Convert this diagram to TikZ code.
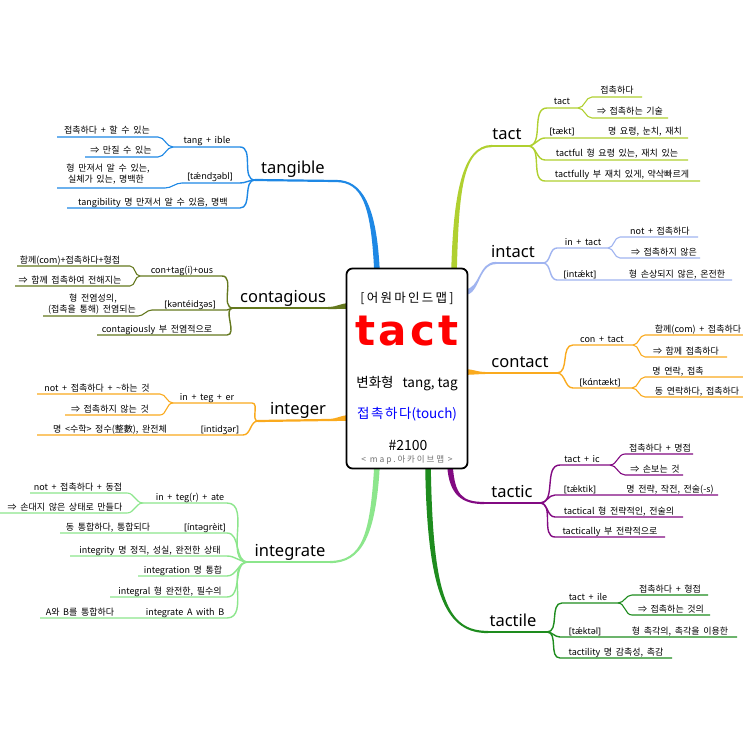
\documentclass[tikz,border=0pt]{standalone}
\usepackage{fontspec}
\setmainfont{Noto Sans CJK KR}
\newfontfamily\txtfont{Noto Sans CJK KR}[WordSpace=1.8]
\newfontfamily\latinfont{Noto Sans}
\newfontfamily\ipafont{Noto Sans}
\newfontfamily\tactfont{DejaVu Sans}
\newfontfamily\krspaced{Noto Sans CJK KR}[LetterSpace=18]
\newfontfamily\krmid{Noto Sans CJK KR}[LetterSpace=12]
\newfontfamily\krwide{Noto Sans CJK KR}[LetterSpace=22]
\usetikzlibrary{calc,backgrounds}
\definecolor{cTact}{RGB}{176,208,48}
\definecolor{cIntact}{RGB}{160,180,240}
\definecolor{cOrange}{RGB}{250,170,30}
\definecolor{cPurple}{RGB}{130,10,130}
\definecolor{cGreen}{RGB}{30,140,30}
\definecolor{cBlue}{RGB}{30,136,229}
\definecolor{cOlive}{RGB}{100,120,30}
\definecolor{cLgreen}{RGB}{140,230,140}
\newcommand\mainbranch[7]{%
  \coordinate (#1A) at (#3); \coordinate (#1C) at (#4); \coordinate (#1D) at (#5);
  \coordinate (#1B) at (#6); \coordinate (#1F) at (#7);
  \fill[#2] ($(#1A)!2.8pt!90:(#1C)$) .. controls ($(#1C)!2.8pt!-90:(#1A)$) and ($(#1D)!1.1pt!90:(#1B)$) .. ($(#1B)!1.1pt!-90:(#1D)$)
    -- ($(#1B)!1.1pt!90:(#1D)$) .. controls ($(#1D)!1.1pt!-90:(#1B)$) and ($(#1C)!2.8pt!90:(#1A)$) .. ($(#1A)!2.8pt!-90:(#1C)$) -- cycle;
  \draw[#2, line width=2.2pt] (#1B) -- (#1F);}
\newcommand\subR[5]{%
  \coordinate (#3s) at (#4); \coordinate (#3e) at (#5);
  \draw[#1] (#2) to[out=0,in=180] (#3s) -- (#3e);}
\newcommand\subL[5]{%
  \coordinate (#3s) at (#4); \coordinate (#3e) at (#5);
  \draw[#1] (#2) to[out=180,in=0] (#3s) -- (#3e);}
\begin{document}
\begin{tikzpicture}[x=1pt,y=-1pt,
  txt/.style={font=\txtfont\fontsize{9}{10}\selectfont, inner sep=0pt, anchor=base},
  mainlbl/.style={font=\latinfont\fontsize{16.5}{18}\selectfont, inner sep=0pt, anchor=base},
  sb/.style={draw=#1, line width=1.4pt},
  ssb/.style={draw=#1, line width=1.1pt}]
\useasboundingbox (0,0) rectangle (743,743);
\node[draw=black, line width=1.8pt, rounded corners=6pt, fill=white, minimum width=121pt, minimum height=200pt, inner sep=0pt] (hub) at (407,368.5) {};
\begin{scope}[on background layer]
\fill[white] (0,0) rectangle (743,743);
% tact
\mainbranch{tact}{cTact}{454,272}{456,195}{462,146}{492,146}{528,146}
\subR{sb=cTact}{tactF}{tactI}{547,108}{578,108}
\subR{ssb=cTact}{tactIe}{tactIa}{592,97}{642,97}
\subR{ssb=cTact}{tactIe}{tactIb}{592,118}{668,118}
\subR{sb=cTact}{tactF}{tactII}{545,138}{688,138}
\subR{sb=cTact}{tactF}{tactIII}{545,160}{688,160}
\subR{sb=cTact}{tactF}{tactIV}{545,181}{700,181}
% intact
\mainbranch{intact}{cIntact}{465,292}{480,292}{478,263}{496,263}{543,263}
\subR{sb=cIntact}{intactF}{inI}{557,248}{608,248}
\subR{ssb=cIntact}{inIe}{inIa}{620,237}{698,237}
\subR{ssb=cIntact}{inIe}{inIb}{620,258}{700,258}
\subR{sb=cIntact}{intactF}{inII}{557,280}{732,280}
% contact
\mainbranch{contact}{cOrange}{465,372}{474,372}{476,373}{485,373}{557,373}
\subR{sb=cOrange}{contactF}{coI}{573,345}{633,345}
\subR{ssb=cOrange}{coIe}{coIa}{645,335}{743,335}
\subR{ssb=cOrange}{coIe}{coIb}{645,357}{727,357}
\subR{sb=cOrange}{contactF}{coII}{573,388}{632,388}
\subR{ssb=cOrange}{coIIe}{coIIa}{645,377}{743,377}
\subR{ssb=cOrange}{coIIe}{coIIb}{645,397}{743,397}
% tactic
\mainbranch{tactic}{cPurple}{450,466}{452,495}{462,503}{484,503}{540,503}
\subR{sb=cPurple}{tacticF}{tcI}{560,465}{610,465}
\subR{ssb=cPurple}{tcIe}{tcIa}{625,454}{693,454}
\subR{ssb=cPurple}{tcIe}{tcIb}{625,475}{683,475}
\subR{sb=cPurple}{tacticF}{tcII}{555,495}{718,495}
\subR{sb=cPurple}{tacticF}{tcIII}{555,517}{683,517}
\subR{sb=cPurple}{tacticF}{tcIV}{555,537}{665,537}
% tactile
\mainbranch{tactile}{cGreen}{428,466}{430,600}{448,632}{488,632}{547,632}
\subR{sb=cGreen}{tactileF}{tlI}{562,603}{618,603}
\subR{ssb=cGreen}{tlIe}{tlIa}{632,595}{708,595}
\subR{ssb=cGreen}{tlIe}{tlIb}{632,615}{710,615}
\subR{sb=cGreen}{tactileF}{tlII}{560,637}{737,637}
\subR{sb=cGreen}{tactileF}{tlIII}{560,658}{672,658}
% tangible
\mainbranch{tangible}{cBlue}{377,272}{374,205}{362,181}{336,181}{255,180}
\subL{sb=cBlue}{tangibleF}{tgI}{240,147}{173,147}
\subL{ssb=cBlue}{tgIe}{tgIa}{158,137}{57,137}
\subL{ssb=cBlue}{tgIe}{tgIb}{158,157}{85,157}
\subL{sb=cBlue}{tangibleF}{tgII}{240,183}{182,183}
\subL{ssb=cBlue}{tgIIe}{tgIIa}{165,188}{57,188}
\subL{sb=cBlue}{tangibleF}{tgIII}{240,208}{67,208}
% contagious
\mainbranch{contagious}{cOlive}{349,306}{340,306}{338,308}{328,308}{233,308}
\subL{sb=cOlive}{contagiousF}{cgI}{222,276}{140,276}
\subL{ssb=cOlive}{cgIe}{cgIa}{130,266}{17,266}
\subL{ssb=cOlive}{cgIe}{cgIb}{130,286}{15,286}
\subL{sb=cOlive}{contagiousF}{cgII}{227,310}{152,310}
\subL{ssb=cOlive}{cgIIe}{cgIIa}{138,316}{43,316}
\subL{sb=cOlive}{contagiousF}{cgIII}{227,335}{97,335}
% integer
\mainbranch{integer}{cOrange}{349,418}{340,418}{338,420}{328,420}{258,421}
\subL{sb=cOrange}{integerF}{igI}{252,403}{173,403}
\subL{ssb=cOrange}{igIe}{igIa}{160,394}{37,394}
\subL{ssb=cOrange}{igIe}{igIb}{160,415}{65,415}
\subL{sb=cOrange}{integerF}{igII}{243,435}{37,435}
% integrate
\mainbranch{integrate}{cLgreen}{377,466}{373,535}{362,562}{330,562}{248,562}
\subL{sb=cLgreen}{integrateF}{irI}{227,503}{143,503}
\subL{ssb=cLgreen}{irIe}{irIa}{127,493}{30,493}
\subL{ssb=cLgreen}{irIe}{irIb}{127,513}{0,513}
\subL{sb=cLgreen}{integrateF}{irII}{227,533}{60,533}
\subL{sb=cLgreen}{integrateF}{irIII}{227,556}{70,556}
\subL{sb=cLgreen}{integrateF}{irIV}{227,576}{138,576}
\subL{sb=cLgreen}{integrateF}{irV}{227,597}{110,597}
\subL{sb=cLgreen}{integrateF}{irVI}{227,618}{40,618}
\end{scope}
% hub texts
\node[inner sep=0pt, anchor=base, font=\krspaced\fontsize{12.5}{14}\selectfont] (h1) at (407,302) {[어원마인드맵]};
\node[inner sep=0pt, anchor=base, text=red, font=\tactfont\bfseries\fontsize{42}{44}\selectfont] (h2) at (407,345) {t\kern3.5pt a\kern3.5pt c\kern3.5pt t};
\node[inner sep=0pt, anchor=base, font=\fontsize{13.5}{15}\selectfont] (h3) at (407,387) {변화형\hspace{9pt}tang, tag};
\node[inner sep=0pt, anchor=base, text=blue, font=\fontsize{13.5}{15}\selectfont] (h4) at (407,418) {{\krmid 접촉하다}(touch)};
\node[inner sep=0pt, anchor=base, font=\fontsize{14}{16}\selectfont] (h5) at (408,450) {\#2100};
\node[inner sep=0pt, anchor=base, text=black!55, font=\krwide\fontsize{8.5}{9}\selectfont] (h6) at (407,462) {< map.아카이브맵 >};
% main labels
\node[mainlbl] (Ltact) at (507,140) {tact};
\node[mainlbl] (Lintact) at (513,257) {intact};
\node[mainlbl] (Lcontact) at (520,367) {contact};
\node[mainlbl] (Ltactic) at (512,497) {tactic};
\node[mainlbl] (Ltactile) at (513,626) {tactile};
\node[mainlbl] (Ltangible) at (293,174) {tangible};
\node[mainlbl] (Lcontagious) at (283,302) {contagious};
\node[mainlbl] (Linteger) at (298,414) {integer};
\node[mainlbl] (Lintegrate) at (290,556) {integrate};
% tact texts
\node[txt] (a1) at (562,105) {tact};
\node[txt] (a2) at (617,94) {접촉하다};
\node[txt] (a3) at (630,115) {⇒ 접촉하는 기술};
\node[txt] (a4) at (562,135) {\ipafont [tækt]};
\node[txt] (a5) at (645,135) {명 요령, 눈치, 재치};
\node[txt] (a6) at (617,157) {tactful 형 요령 있는, 재치 있는};
\node[txt] (a7) at (622,178) {tactfully 부 재치 있게, 약삭빠르게};
% intact texts
\node[txt] (b1) at (583,245) {in + tact};
\node[txt] (b2) at (660,234) {not + 접촉하다};
\node[txt] (b3) at (664,255) {⇒ 접촉하지 않은};
\node[txt] (b4) at (580,277) {\ipafont [intǽkt]};
\node[txt] (b5) at (677,277) {형 손상되지 않은, 온전한};
% contact texts
\node[txt] (c1) at (602,342) {con + tact};
\node[txt] (c2) at (698,332) {함께(com) + 접촉하다};
\node[txt] (c3) at (686,354) {⇒ 함께 접촉하다};
\node[txt] (c4) at (600,385) {\ipafont [kɑ́ntækt]};
\node[txt] (c5) at (678,374) {명 연락, 접촉};
\node[txt] (c6) at (697,394) {동 연락하다, 접촉하다};
% tactic texts
\node[txt] (d1) at (582,462) {tact + ic};
\node[txt] (d2) at (660,451) {접촉하다 + 명접};
\node[txt] (d3) at (655,472) {⇒ 손보는 것};
\node[txt] (d4) at (580,492) {\ipafont [tǽktik]};
\node[txt] (d5) at (670,492) {명 전략, 작전, 전술(-s)};
\node[txt] (d6) at (619,514) {tactical 형 전략적인, 전술의};
\node[txt] (d7) at (610,534) {tactically 부 전략적으로};
% tactile texts
\node[txt] (e1) at (588,600) {tact + ile};
\node[txt] (e2) at (670,592) {접촉하다 + 형접};
\node[txt] (e3) at (671,612) {⇒ 접촉하는 것의};
\node[txt] (e4) at (585,634) {\ipafont [tǽktəl]};
\node[txt] (e5) at (680,634) {형 촉각의, 촉각을 이용한};
\node[txt] (e6) at (616,655) {tactility 명 감촉성, 촉감};
% tangible texts
\node[txt] (f1) at (207,144) {tang + ible};
\node[txt] (f2) at (107,134) {접촉하다 + 할 수 있는};
\node[txt] (f3) at (121,154) {⇒ 만질 수 있는};
\node[txt] (f4) at (210,180) {\ipafont [tǽndʒəbl]};
\node[txt] (f5) at (108,172) {형 만져서 알 수 있는,};
\node[txt] (f6) at (106,183) {실체가 있는, 명백한};
\node[txt] (f7) at (153,205) {tangibility 명 만져서 알 수 있음, 명백};
% contagious texts
\node[txt] (g1) at (182,273) {con+tag(i)+ous};
\node[txt] (g2) at (70,263) {함께(com)+접촉하다+형접};
\node[txt] (g3) at (70,283) {⇒ 함께 접촉하여 전해지는};
\node[txt] (g4) at (190,307) {\ipafont [kəntéidʒəs]};
\node[txt] (g5) at (93,301) {형 전염성의,};
\node[txt] (g6) at (92,312) {(접촉을 통해) 전염되는};
\node[txt] (g7) at (157,332) {contagiously 부 전염적으로};
% integer texts
\node[txt] (h7) at (207,400) {in + teg + er};
\node[txt] (h8) at (97,391) {not + 접촉하다 + \textasciitilde 하는 것};
\node[txt] (h9) at (110,412) {⇒ 접촉하지 않는 것};
\node[txt] (h10) at (110,432) {명 <수학> 정수(整數), 완전체};
\node[txt] (h11) at (220,432) {\ipafont [intidʒər]};
% integrate texts
\node[txt] (i1) at (190,500) {in + teg(r) + ate};
\node[txt] (i2) at (78,490) {not + 접촉하다 + 동접};
\node[txt] (i3) at (65,510) {⇒ 손대지 않은 상태로 만들다};
\node[txt] (i4) at (205,530) {\ipafont [íntəgrèit]};
\node[txt] (i5) at (108,530) {동 통합하다, 통합되다};
\node[txt] (i6) at (150,553) {integrity 명 정직, 성실, 완전한 상태};
\node[txt] (i7) at (183,573) {integration 명 통합};
\node[txt] (i8) at (170,594) {integral 형 완전한, 필수의};
\node[txt] (i9) at (185,615) {integrate A with B};
\node[txt] (i10) at (80,615) {A와 B를 통합하다};
\end{tikzpicture}
\end{document}
